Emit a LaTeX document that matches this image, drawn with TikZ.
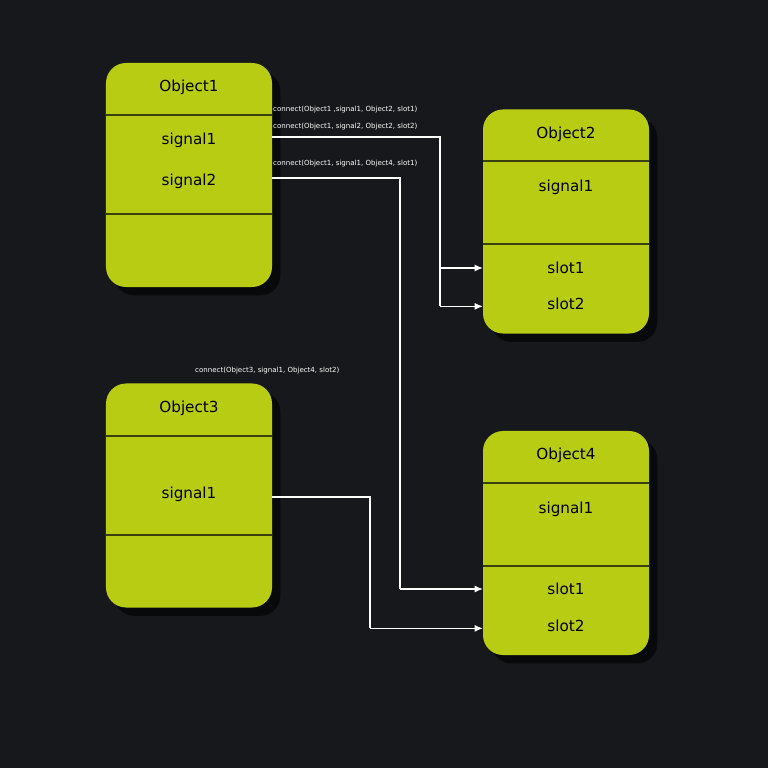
\documentclass[tikz,border=0pt]{standalone}
\usepackage{fontspec}
\setmainfont{DejaVu Sans}
\usepackage{xcolor}
\usetikzlibrary{arrows.meta,shadows}
\definecolor{bgdark}{HTML}{16181B}
\definecolor{lime}{HTML}{B8CC14}
\definecolor{rule}{HTML}{3A4010}

\tikzset{
  obj/.style={draw=none,fill=lime,rounded corners=0.6cm,minimum width=4.98cm,minimum height=6.72cm,
    drop shadow={shadow xshift=0.25cm,shadow yshift=-0.25cm,fill=black,opacity=0.6}},
  lbl/.style={font=\fontsize{13}{15}\selectfont,text=black},
  connlbl/.style={font=\fontsize{6}{7}\selectfont,text=white,anchor=west,inner sep=0pt},
  wire/.style={draw=white,line width=0.9pt},
  arr/.style={wire,-{Latex[length=7pt,width=6pt]}}
}

\begin{document}
\begin{tikzpicture}[x=0.03cm,y=-0.03cm]
\fill[bgdark] (0,0) rectangle (768,768);
\useasboundingbox (0,0) rectangle (768,768);

% boxes
\node[obj] (o1) at (189,175) {};
\node[obj] (o2) at (566,221.5) {};
\node[obj] (o3) at (189,495.5) {};
\node[obj] (o4) at (566,543) {};

\draw[rule,line width=1pt] (106,115) -- (272,115);
\draw[rule,line width=1pt] (106,214) -- (272,214);
\draw[rule,line width=1pt] (483,161) -- (649,161);
\draw[rule,line width=1pt] (483,244) -- (649,244);
\draw[rule,line width=1pt] (106,436) -- (272,436);
\draw[rule,line width=1pt] (106,535) -- (272,535);
\draw[rule,line width=1pt] (483,483) -- (649,483);
\draw[rule,line width=1pt] (483,566) -- (649,566);

\node[lbl] (o1t) at (189,87) {Object1};
\node[lbl] (o1s1) at (189,140) {signal1};
\node[lbl] (o1s2) at (189,181) {signal2};
\node[lbl] (o2t) at (566,134) {Object2};
\node[lbl] (o2s1) at (566,187) {signal1};
\node[lbl] (o2r1) at (566,268) {slot1};
\node[lbl] (o2r2) at (566,304) {slot2};
\node[lbl] (o3t) at (189,408) {Object3};
\node[lbl] (o3s1) at (189,494) {signal1};
\node[lbl] (o4t) at (566,455) {Object4};
\node[lbl] (o4s1) at (566,509) {signal1};
\node[lbl] (o4r1) at (566,589) {slot1};
\node[lbl] (o4r2) at (566,626) {slot2};

% connectors
\coordinate (j1) at (440,137);
\coordinate (j2) at (400,178);
\coordinate (j3) at (370,497);
\draw[wire] (o1.east |- j1) -- (j1) -- ([yshift=-2pt]j1 |- o2r2);
\draw[arr] (j1 |- o2r1) -- (o2.west |- o2r1);
\draw[arr] ([yshift=-2pt]j1 |- o2r2) -- ([yshift=-2pt]o2.west |- o2r2);
\draw[wire] (o1.east |- j2) -- (j2) -- (j2 |- o4r1);
\draw[arr] (j2 |- o4r1) -- (o4.west |- o4r1);
\draw[wire] (o3.east |- j3) -- (j3) -- ([yshift=-2pt]j3 |- o4r2);
\draw[arr] ([yshift=-2pt]j3 |- o4r2) -- ([yshift=-2pt]o4.west |- o4r2);

\node[connlbl] at (273,110) {connect(Object1 ,signal1, Object2, slot1)};
\node[connlbl] at (273,127) {connect(Object1, signal2, Object2, slot2)};
\node[connlbl] at (273,164) {connect(Object1, signal1, Object4, slot1)};
\node[connlbl] at (195,371) {connect(Object3, signal1, Object4, slot2)};
\end{tikzpicture}
\end{document}
